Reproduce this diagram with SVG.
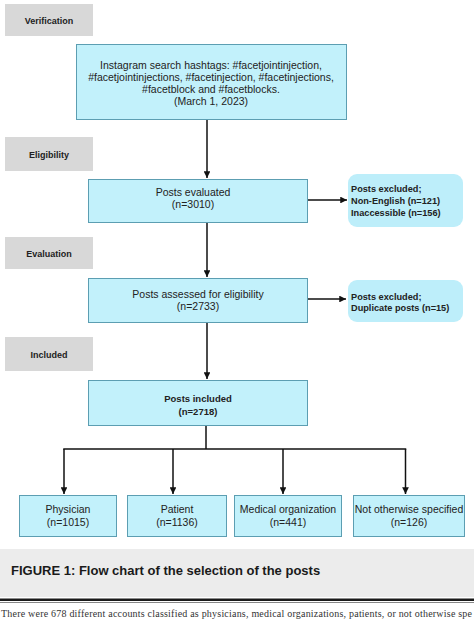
<svg xmlns="http://www.w3.org/2000/svg" width="474" height="620" viewBox="0 0 474 620">
<defs>
<marker id="arr" viewBox="0 0 10 10" refX="10" refY="5" markerWidth="4.5" markerHeight="4.5" orient="auto" markerUnits="strokeWidth">
<path d="M0,0 L10,5 L0,10 z" fill="#111"/>
</marker>
<style>
text{font-family:"Liberation Sans",Arial,sans-serif;fill:#222}
.stage{fill:#d8d8d8}
.lbl{font-size:9px;font-weight:bold;text-anchor:middle}
.box{fill:#c2f1fb;stroke:#5c9eb2;stroke-width:1}
.ex{fill:#bdeefa}
.t{font-size:10.5px;text-anchor:middle}
.tb{font-size:9.5px;font-weight:bold;text-anchor:middle}
.et{font-size:9.2px;font-weight:bold}
.c{fill:none;stroke:#111;stroke-width:1.5}
</style>
</defs>
<rect width="474" height="620" fill="#fff"/>

<g id="stage-verification"><rect class="stage" x="5" y="4" width="88" height="32"/><text class="lbl" x="49" y="24">Verification</text></g>
<g id="stage-eligibility"><rect class="stage" x="5" y="137" width="88" height="34"/><text class="lbl" x="49" y="158">Eligibility</text></g>
<g id="stage-evaluation"><rect class="stage" x="5" y="237" width="88" height="32"/><text class="lbl" x="49" y="257">Evaluation</text></g>
<g id="stage-included"><rect class="stage" x="5" y="337" width="88" height="34"/><text class="lbl" x="49" y="358">Included</text></g>

<g id="search"><rect class="box" x="76.5" y="44.5" width="270" height="75"/>
<text class="t" x="211" y="69">Instagram search hashtags: #facetjointinjection,</text>
<text class="t" x="211" y="81">#facetjointinjections, #facetinjection, #facetinjections,</text>
<text class="t" x="211" y="93">#facetblock and #facetblocks.</text>
<text class="t" x="211" y="105">(March 1, 2023)</text></g>

<g id="evaluated"><rect class="box" x="88.5" y="179.5" width="219" height="43"/>
<text class="t" x="193" y="196">Posts evaluated</text>
<text class="t" x="193" y="208">(n=3010)</text></g>

<g id="excluded1"><rect class="ex" x="348" y="174" width="115" height="53" rx="9"/>
<text class="et" x="351" y="192">Posts excluded;</text>
<text class="et" x="351" y="204">Non-English (n=121)</text>
<text class="et" x="351" y="216">Inaccessible (n=156)</text></g>

<g id="assessed"><rect class="box" x="88.5" y="278.5" width="219" height="44"/>
<text class="t" x="198" y="298">Posts assessed for eligibility</text>
<text class="t" x="198" y="310">(n=2733)</text></g>

<g id="excluded2"><rect class="ex" x="348" y="280" width="115" height="42" rx="9"/>
<text class="et" x="351" y="300">Posts excluded;</text>
<text class="et" x="351" y="311">Duplicate posts (n=15)</text></g>

<g id="included"><rect class="box" x="88.5" y="380.5" width="219" height="45"/>
<text class="tb" x="198" y="402">Posts included</text>
<text class="tb" x="198" y="415">(n=2718)</text></g>

<g id="physician"><rect class="box" x="19.5" y="495.5" width="97" height="41"/>
<text class="t" x="68" y="513">Physician</text><text class="t" x="68" y="526">(n=1015)</text></g>
<g id="patient"><rect class="box" x="127.5" y="495.5" width="99" height="41"/>
<text class="t" x="177" y="513">Patient</text><text class="t" x="177" y="526">(n=1136)</text></g>
<g id="medical"><rect class="box" x="234.5" y="495.5" width="107" height="41"/>
<text class="t" x="288" y="513">Medical organization</text><text class="t" x="288" y="526">(n=441)</text></g>
<g id="nos"><rect class="box" x="353.5" y="495.5" width="111" height="41"/>
<text class="t" x="409" y="513">Not otherwise specified</text><text class="t" x="409" y="526">(n=126)</text></g>

<g id="connectors">
<line class="c" x1="207" y1="120" x2="207" y2="178" marker-end="url(#arr)"/>
<line class="c" x1="308" y1="200" x2="347" y2="200" marker-end="url(#arr)"/>
<line class="c" x1="207" y1="223" x2="207" y2="277" marker-end="url(#arr)"/>
<line class="c" x1="308" y1="299" x2="346" y2="299" marker-end="url(#arr)"/>
<line class="c" x1="207" y1="323" x2="207" y2="379" marker-end="url(#arr)"/>
<line class="c" x1="206" y1="426" x2="206" y2="449"/>
<line class="c" x1="63.25" y1="449" x2="406.25" y2="449"/>
<line class="c" x1="64" y1="449" x2="64" y2="494" marker-end="url(#arr)"/>
<line class="c" x1="173" y1="449" x2="173" y2="494" marker-end="url(#arr)"/>
<line class="c" x1="283" y1="449" x2="283" y2="494" marker-end="url(#arr)"/>
<line class="c" x1="405.5" y1="449" x2="405.5" y2="494" marker-end="url(#arr)"/>
</g>

<rect x="0" y="549" width="474" height="48" fill="#ececec"/>
<text x="11" y="575" style="font-size:13px;font-weight:bold;fill:#1a1a1a">FIGURE 1: Flow chart of the selection of the posts</text>
<rect x="0" y="598.5" width="474" height="2.5" fill="#1a1a1a"/>
<rect x="0" y="602" width="474" height="1" fill="#888"/>
<text x="1" y="617" textLength="471" lengthAdjust="spacing" style="font-family:'Liberation Serif','Times New Roman',serif;font-size:10px;fill:#333">There were 678 different accounts classified as physicians, medical organizations, patients, or not otherwise spe</text>
</svg>
